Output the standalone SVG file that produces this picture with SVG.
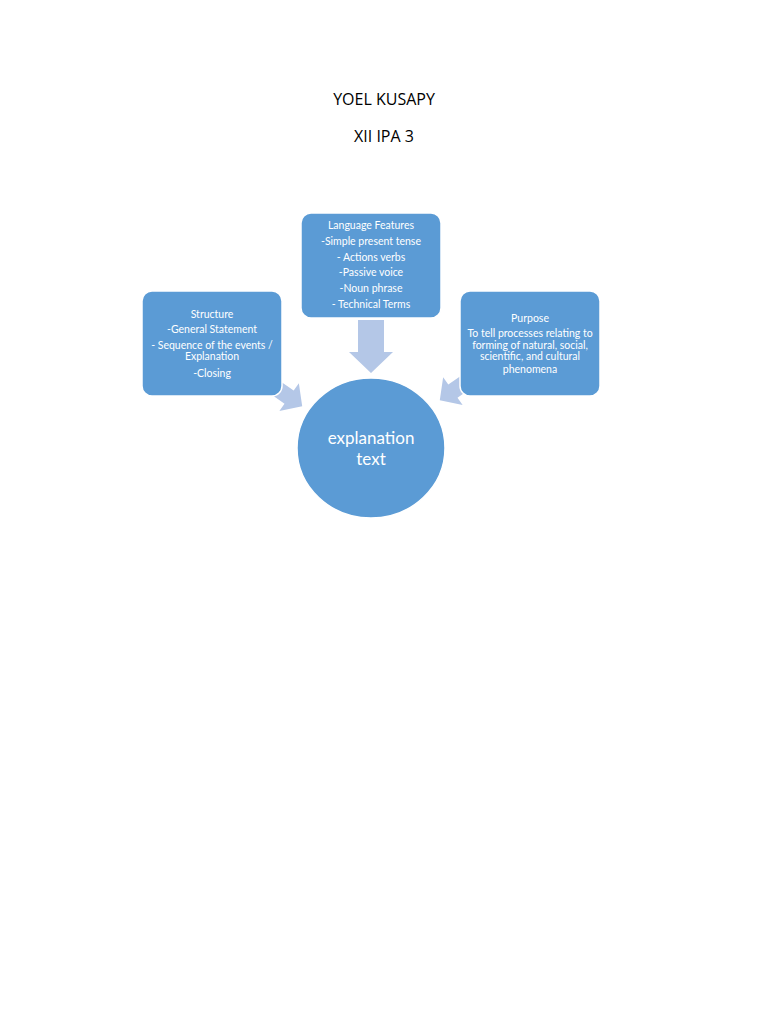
<svg xmlns="http://www.w3.org/2000/svg" width="768" height="1024" viewBox="0 0 768 1024">
<style>
.box{fill:#5b9bd5;stroke:#fff;stroke-width:1.5}
.t{font-family:Lato,"Open Sans",sans-serif;font-size:10.5px;fill:#fff;text-anchor:middle}
.arr{fill:#b4c7e7}
.title{font-family:"Open Sans",Lato,sans-serif;font-size:16px;fill:#000;text-anchor:middle}
</style>
<rect width="768" height="1024" fill="#fff"/>
<text class="title" x="384" y="105">YOEL KUSAPY</text>
<text class="title" x="384" y="142">XII IPA 3</text>
<g id="connectors">
<polygon class="arr" points="358,320 384,320 384,352 393,352 371,373 349,352 358,352"/>
<polygon class="arr" transform="translate(276,388) rotate(35)" points="0,-8 16,-8 16,-17 32,0 16,17 16,8 0,8"/>
<polygon class="arr" transform="translate(466,382) rotate(145)" points="0,-8 16,-8 16,-17 32,0 16,17 16,8 0,8"/>
</g>
<g id="language">
<rect class="box" x="301" y="213" width="140" height="105" rx="10"/>
<text class="t" x="371" y="229">Language Features</text>
<text class="t" x="371" y="245">-Simple present tense</text>
<text class="t" x="371" y="261">- Actions verbs</text>
<text class="t" x="371" y="276">-Passive voice</text>
<text class="t" x="371" y="292">-Noun phrase</text>
<text class="t" x="371" y="308">- Technical Terms</text>
</g>
<g id="structure">
<rect class="box" x="142" y="291" width="140" height="105" rx="10"/>
<text class="t" x="212" y="318">Structure</text>
<text class="t" x="212" y="333">-General Statement</text>
<text class="t" x="212" y="349">- Sequence of the events /</text>
<text class="t" x="212" y="360">Explanation</text>
<text class="t" x="212" y="377">-Closing</text>
</g>
<g id="purpose">
<rect class="box" x="460" y="291" width="140" height="105" rx="10"/>
<text class="t" x="530" y="322">Purpose</text>
<text class="t" x="530" y="337">To tell processes relating to</text>
<text class="t" x="530" y="349">forming of natural, social,</text>
<text class="t" x="530" y="360">scientific, and cultural</text>
<text class="t" x="530" y="373">phenomena</text>
</g>
<g id="center">
<ellipse class="box" cx="371" cy="448" rx="74" ry="70"/>
<text class="t" style="font-size:17px" x="371" y="444">explanation</text>
<text class="t" style="font-size:17px" x="371" y="465">text</text>
</g>
</svg>
